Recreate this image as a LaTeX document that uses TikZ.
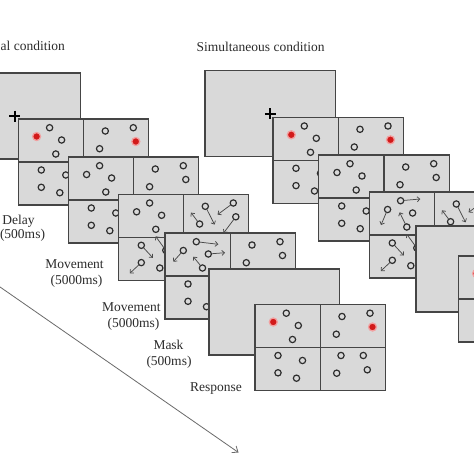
\documentclass[tikz,border=0pt]{standalone}
\usepackage{fontspec}
\setmainfont{Liberation Serif}
\usetikzlibrary{arrows.meta}
\definecolor{scrfill}{HTML}{D9D9D9}
\definecolor{scredge}{HTML}{454545}
\definecolor{ringc}{HTML}{2E2E2E}
\definecolor{dotred}{HTML}{D21A1A}
\definecolor{dothalo}{HTML}{F2A0A0}
\definecolor{arrc}{HTML}{4A4A4A}
\definecolor{txtc}{HTML}{2C2C2C}
\definecolor{tlinec}{HTML}{6A6A6A}
\tikzset{
  x=1pt, y=-1pt,
  scr/.style={rectangle, draw=scredge, fill=scrfill, line width=1.3pt,
    minimum width=130.5pt, minimum height=86pt, inner sep=0pt, outer sep=0pt, anchor=north west},
  divline/.style={draw=scredge, line width=1.2pt},
  ring/.style={circle, draw=ringc, line width=1.2pt, minimum size=6.3pt, inner sep=0pt, outer sep=0pt},
  redspot/.style={circle, fill=dotred, draw=dothalo, line width=1.3pt, minimum size=8pt, inner sep=0pt, outer sep=0pt},
  crossline/.style={draw=black, line width=1.8pt},
  mv/.style={draw=arrc, line width=0.75pt, -{Straight Barb[length=2.6pt,width=5pt]}},
  tline/.style={draw=tlinec, line width=0.8pt, -{Straight Barb[length=5pt,width=8pt]}},
  lbl/.style={font=\fontsize{13.5}{16}\selectfont, text=txtc, anchor=base, inner sep=0pt},
  ttl/.style={font=\fontsize{13.5}{16}\selectfont, text=txtc, anchor=base west, inner sep=0pt},
  pics/blankscr/.style={code={\node[scr] (-box) at (0,0) {};}},
  pics/fixscr/.style={code={
    \node[scr] (-box) at (0,0) {};
    \draw[crossline] (59.75,43) -- (70.75,43) (65.25,37.5) -- (65.25,48.5);}},
  pics/dots/.style={code={
    \node[scr] (-box) at (0,0) {};
    \draw[divline] (65.25,0) -- (65.25,86) (0,43) -- (130.5,43);
    \node[ring] (-a) at (31.3,8.7) {};
    \node[#1] (-b) at (18.3,17.5) {};
    \node[ring] (-c) at (43.3,21) {};
    \node[ring] (-d) at (37.5,35) {};
    \node[ring] (-e) at (87,12) {};
    \node[ring] (-f) at (115,8.7) {};
    \node[#1] (-g) at (117.5,22.5) {};
    \node[ring] (-h) at (81.3,29.7) {};
    \node[ring] (-i) at (23,51) {};
    \node[ring] (-j) at (47.5,56) {};
    \node[ring] (-k) at (23,68.3) {};
    \node[ring] (-l) at (41.5,73.7) {};
    \node[ring] (-m) at (86,51) {};
    \node[ring] (-n) at (108.3,51) {};
    \node[ring] (-o) at (81.7,68.7) {};
    \node[ring] (-p) at (112.3,65.3) {};
  }},
  pics/dots/.default=ring,
}
\begin{document}
\begin{tikzpicture}
\useasboundingbox (0,0) rectangle (474,474);
\fill[white] (0,0) rectangle (474,474);

% titles
\node[ttl] (ltitle) at (0.5,50.5) {al condition};
\node[ttl] (rtitle) at (196.5,51) {Simultaneous condition};

% ---------- left condition ----------
\pic (LF) at (-50.3,73) {fixscr};
\pic (L1) at (18.3,119) {dots=redspot};
\pic (L2) at (68.3,157) {dots};
\pic (L3) at (118.3,194.3) {dots};
\draw[mv] (L3-e) -- ++(9.3,18.3);
\draw[mv] (L3-f) -- ++(-15.7,11.6);
\draw[mv] (L3-h) -- ++(-8.6,-11.4);
\draw[mv] (L3-g) -- ++(-12.2,16.2);
\draw[mv] (L3-i) -- ++(11.5,12.5);
\draw[mv] (L3-k) -- ++(-11.5,10.7);
\draw[mv] (L3-j) -- ++(-10.2,-14);
\pic (L4) at (165,233) {dots};
\draw[mv] (L4-a) -- ++(22,2.6);
\draw[mv] (L4-b) -- ++(-10,11.2);
\draw[mv] (L4-c) -- ++(16.7,-1.3);
\draw[mv] (L4-d) -- ++(-9.2,-11.3);
\pic (LM) at (209,269) {blankscr};
\pic (LR) at (255,304.5) {dots=redspot};

% ---------- right condition ----------
\pic (RF) at (205,70.7) {fixscr};
\pic (R1) at (273,117.3) {dots=redspot};
\pic (R2) at (318.7,155) {dots};
\pic (R3) at (369.3,192) {dots};
\draw[mv] (R3-a) -- ++(19.7,-1.7);
\draw[mv] (R3-b) -- ++(-6.6,15.5);
\draw[mv] (R3-d) -- ++(-7.2,-14.7);
\draw[mv] (R3-e) -- ++(9.3,18.3);
\draw[mv] (R3-f) -- ++(-15.7,11.6);
\draw[mv] (R3-h) -- ++(-8.6,-11.4);
\draw[mv] (R3-g) -- ++(-12.2,16.2);
\draw[mv] (R3-i) -- ++(11.5,12.5);
\draw[mv] (R3-k) -- ++(-11.5,10.7);
\draw[mv] (R3-j) -- ++(-10.2,-14);
\pic (RM) at (416,226) {blankscr};
\pic (RR) at (458.3,256) {dots=redspot};

% ---------- labels ----------
\node[lbl] (delayA) at (18.5,224.5) {Delay};
\node[lbl] (delayB) at (22.5,238.8) {(500ms)};
\node[lbl] (moveA1) at (74.5,268.7) {Movement};
\node[lbl] (moveB1) at (76.5,284.5) {(5000ms)};
\node[lbl] (moveA2) at (131.3,311.5) {Movement};
\node[lbl] (moveB2) at (133.5,327) {(5000ms)};
\node[lbl] (maskA) at (168.5,349) {Mask};
\node[lbl] (maskB) at (169,365) {(500ms)};
\node[lbl] (resp) at (216,391) {Response};

% ---------- time arrow ----------
\coordinate (tstart) at (-6,282.8);
\coordinate (tend) at (238.5,452.5);
\draw[tline] (tstart) -- (tend);
\end{tikzpicture}
\end{document}
